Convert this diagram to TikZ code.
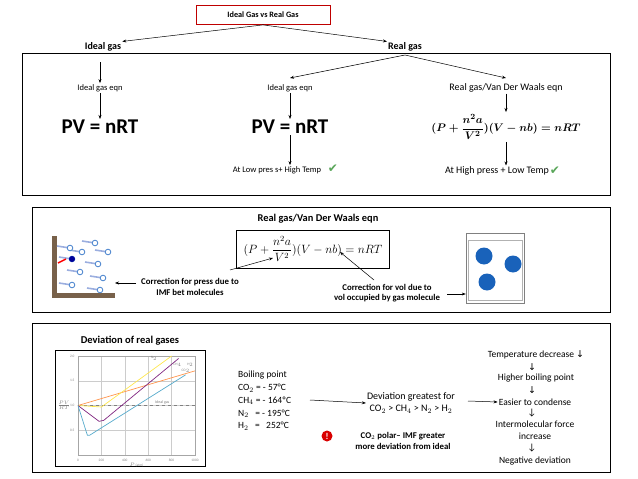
\documentclass[tikz,border=0pt]{standalone}
\usepackage{amsmath}
\usepackage{fontspec}
\setmainfont{Carlito}
\newfontfamily\djv{DejaVu Sans}
\usetikzlibrary{arrows.meta}
\begin{document}
\begin{tikzpicture}[x=1pt,y=-1pt,
  lbl/.style={font=\fontsize{8.5}{10}\selectfont,align=center,inner sep=1pt},
  big/.style={font=\fontsize{21}{24}\selectfont\bfseries,inner sep=1pt},
  arr/.style={-{Stealth[length=4pt,width=3pt]},line width=0.5pt},
  panel/.style={draw,line width=0.8pt},
  vdw/.style={font=\fontsize{11}{12}\selectfont,inner sep=2pt},
  chk/.style={font=\djv\fontsize{12}{12}\selectfont,text=gray!70!green,inner sep=0pt}]
\useasboundingbox (0,0) rectangle (638,479);
% title
\node[draw=red!75!black,line width=0.8pt,font=\fontsize{8.2}{9}\selectfont\bfseries,minimum width=134,minimum height=19] (title) at (263,15) {Ideal Gas vs Real Gas};
\node[lbl,font=\fontsize{10}{11}\selectfont\bfseries] (ig) at (103,47) {Ideal gas};
\node[lbl,font=\fontsize{10}{11}\selectfont\bfseries] (rg) at (405,47) {Real gas};
\draw[arr] (title.south) -- (ig.north east);
\draw[arr] (title.south) -- (rg.north west);
\draw[panel] (22,53) rectangle (610,195);
% ideal column
\node[lbl] (ie1) at (100,88) {Ideal gas eqn};
\node[big] (pv1) at (100,127) {PV = nRT};
\draw[arr] (100,62) -- (ie1.north);
\draw[arr] (ie1.south) -- (pv1.north);
% real
\coordinate (rgs) at (405,55);
\node[lbl] (ie2) at (290,88) {Ideal gas eqn};
\node[lbl,font=\fontsize{10}{11}\selectfont] (ie3) at (506,88) {Real gas/Van Der Waals eqn};
\draw[arr] (rgs) -- (290,78);
\draw[arr] (rgs) -- (506,78);
\node[big] (pv2) at (290,127) {PV = nRT};
\draw[arr] (ie2.south) -- (pv2.north);
\node[vdw] (eq1) at (506,127) {$\boldsymbol{(P+\dfrac{n^2a}{V^2})(V-nb)=nRT}$};
\draw[arr] (ie3.south) -- (eq1.north);
\node[lbl] (c1) at (277,170) {At Low pres s+ High Temp};
\node[chk] at (333,169) {✔};
\node[lbl,font=\fontsize{10}{11}\selectfont] (c2) at (497,171) {At High press + Low Temp};
\node[chk] at (555,171) {✔};
\draw[arr] (pv2.south) -- (pv2.south |- c1.north);
\draw[arr] (eq1.south) -- (eq1.south |- c2.north);
% panel 2
\draw[panel] (32,207) rectangle (610,312);
\node[lbl,font=\fontsize{10.4}{12}\selectfont\bfseries] at (318,219) {Real gas/Van Der Waals eqn};
\node[draw,line width=0.6pt,minimum width=153,minimum height=38,vdw,font=\fontsize{12}{13}\selectfont] (eq2) at (313,249) {$(P+\dfrac{n^2a}{V^2})(V-nb)=nRT$};
% wall picture
\fill[brown!45!black!80] (52,236) rectangle (57,298);
\fill[brown!45!black!80] (52,293) rectangle (115,298);
\foreach \x/\y in {95/243, 82/252, 108/252, 72/259, 98/264, 80/272, 103/278, 72/285, 100/290, 70/248}{
  \draw[cyan!40!blue!40,line width=1.6pt] (\x-13,\y-2) -- (\x,\y);
  \draw[cyan!50!blue!70,line width=0.9pt,fill=white] (\x,\y) circle (2.8);}
\fill[blue!60!black] (72,259) circle (3);
\draw[red,line width=1.5pt] (58,263) -- (66,259);
\node[lbl,font=\fontsize{8.8}{10.5}\selectfont\bfseries] (lp) at (190,287) {Correction for press due to\\IMF bet molecules};
\coordinate (wp) at (115,283);
\draw[arr] (lp.west) ++(-4,-4) -- (wp);
\draw[arr] (230,270) -- (273,258);
\node[lbl,font=\fontsize{8.8}{10.5}\selectfont\bfseries] (lv) at (387,293) {Correction for vol due to\\vol occupied by gas molecule};
\draw[arr] (374,280) -- (340,252);
\node[draw,gray,minimum width=58,minimum height=70,inner sep=0pt] (box) at (495,268) {};
\draw[gray!60] (468,240) rectangle (522,300);
\fill[blue!55!cyan!70!black!90] (484,256) circle (8.5) (513,264) circle (8.5) (487,282) circle (8.5);
\draw[arr] (447,294) -- (box.west |- 0,294);
% panel 3
\draw[panel] (32,323) rectangle (610,472);
\node[lbl,font=\fontsize{10.5}{12}\selectfont\bfseries] at (130,341) {Deviation of real gases};
\draw[line width=0.8pt] (55,350) rectangle (205,466);
\begin{scope}[shift={(78,455)},x=0.117pt,y=49.5pt]
 \draw[gray!40,line width=0.3pt] (0,0) grid[xstep=200,ystep=0.5] (1000,2);
 \draw[gray!70] (0,0) rectangle (1000,2);
 \draw[gray,dashed,line width=0.3pt] (0,1) -- (1000,1);
 \draw[orange!80!red!70,line width=0.7pt] (0,1) -- (1000,1.7);
 \draw[yellow!80!orange!70,line width=0.7pt] (0,1) -- (200,0.97) -- (800,2);
 \draw[violet!70!gray,line width=0.7pt] (0,1) -- (180,0.68) -- (220,0.7) -- (860,1.95);
 \draw[cyan!60!gray,line width=0.7pt] (0,1) -- (80,0.4) -- (100,0.4) -- (920,1.62);
 \foreach \v in {0,200,400,600,800,1000}\node[font=\fontsize{3.5}{4}\selectfont,gray] at (\v,-0.1) {\v};
 \foreach \v in {0.5,1.0,1.5,2.0}\node[font=\fontsize{3.5}{4}\selectfont,gray,anchor=east] at (0,\v) {\v};
 \node[font=\fontsize{3.5}{4}\selectfont,gray] at (500,-0.2) {$P$ (atm)};
 \node[font=\fontsize{4}{4}\selectfont,gray] at (720,1.06) {Ideal gas};
 \node[font=\fontsize{3.5}{4}\selectfont,gray] at (650,1.95) {N$_2$};
 \node[font=\fontsize{3.5}{4}\selectfont,gray] at (850,1.82) {CH$_4$};
 \node[font=\fontsize{3.5}{4}\selectfont,gray] at (960,1.82) {H$_2$};
 \node[font=\fontsize{3.5}{4}\selectfont,gray] at (920,1.7) {CO$_2$};
\end{scope}
\node[font=\fontsize{4}{4}\selectfont,gray,align=center] at (64,405) {$\frac{PV}{RT}$};
\node[lbl,align=left,anchor=north west,font=\fontsize{9.5}{12.8}\selectfont] (bp) at (237,370) {Boiling point\\CO$_2$ = - 57°C\\CH$_4$ = - 164ºC\\N$_2$ \ \ = - 195°C\\H$_2$ \ \ = \ \ 252°C};
\coordinate (b1) at (310,400);
\node[lbl,font=\fontsize{10}{12}\selectfont] (dg) at (411,403) {Deviation greatest for\\CO$_2$ > CH$_4$ > N$_2$ > H$_2$};
\draw[arr] (b1) -- (dg.west);
\node[circle,fill=red!85!black,inner sep=0pt,minimum size=11,text=white,font=\bfseries\fontsize{9}{9}\selectfont] (ex) at (327,436) {!};
\node[lbl,font=\fontsize{8.8}{10.5}\selectfont\bfseries] (po) at (403,441) {CO$_2$ polar-- IMF greater\\more deviation from ideal};
\begin{scope}[every node/.style={lbl,font=\fontsize{9.5}{11.5}\selectfont}]
\node (t1) at (536,355) {Temperature decrease \djv↓};
\node (a1) at (532,367) {\djv↓};
\node (t2) at (536,378) {Higher boiling point};
\node (a2) at (532,390) {\djv↓};
\node (t3) at (535,402) {Easier to condense};
\node (a3) at (532,413) {↓};
\node (t4) at (535,430) {Intermolecular force\\increase};
\node (a4) at (532,448) {↓};
\node (t5) at (535,461) {Negative deviation};
\end{scope}
\draw[arr] (468,401) -- (t3.west);
\end{tikzpicture}
\end{document}
